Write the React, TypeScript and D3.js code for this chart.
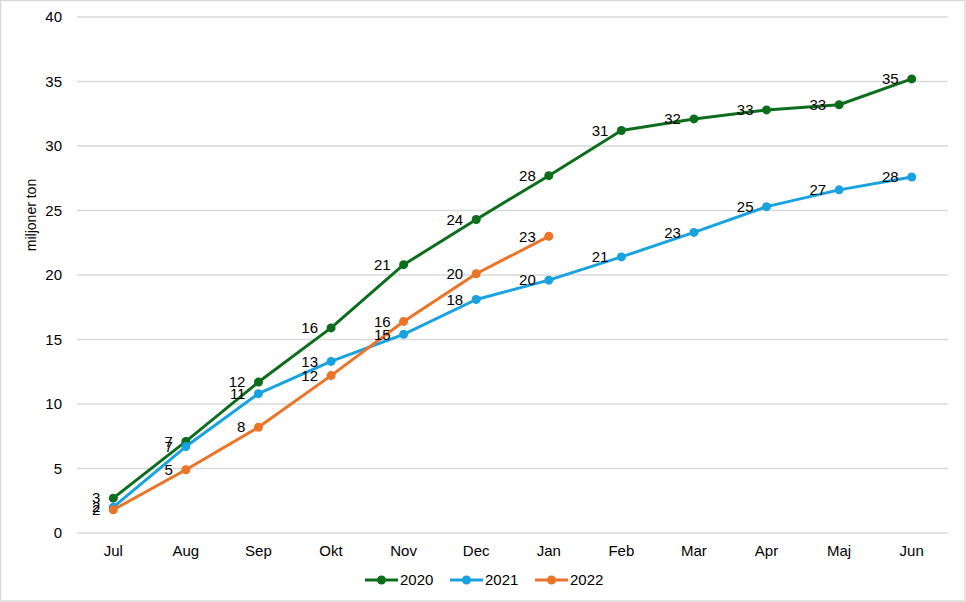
import React from "react";
import * as d3 from "d3";

const months = ["Jul", "Aug", "Sep", "Okt", "Nov", "Dec", "Jan", "Feb", "Mar", "Apr", "Maj", "Jun"];
const values2020 = [2.7, 7.1, 11.7, 15.9, 20.8, 24.3, 27.7, 31.2, 32.1, 32.8, 33.2, 35.2];
const values2021 = [2.0, 6.7, 10.8, 13.3, 15.4, 18.1, 19.6, 21.4, 23.3, 25.3, 26.6, 27.6];
const values2022 = [1.8, 4.9, 8.2, 12.2, 16.4, 20.1, 23.0];
const yTicks = [0, 5, 10, 15, 20, 25, 30, 35, 40];

const seriesNames = ["2020", "2021", "2022"];
const seriesColors = ["#0c6e1c", "#19a2e0", "#ea7428"];

const W = 966;
const H = 602;
const plot = { left: 77, right: 948, top: 17, bottom: 533 };
const font = "Arial, 'Liberation Sans', sans-serif";

export default function App() {
  const x = d3.scaleBand<string>().domain(months).range([plot.left, plot.right]).padding(0);
  const cx = (m: string) => (x(m) ?? 0) + x.bandwidth() / 2;
  const y = d3.scaleLinear().domain([0, 40]).range([plot.bottom, plot.top]);

  const series = [values2020, values2021, values2022];
  const line = d3
    .line<number>()
    .x((_, i) => cx(months[i]))
    .y((d) => y(d));

  const legendItems = seriesNames.map((name, i) => ({ name, color: seriesColors[i], x0: 365 + i * 85 }));

  return (
    <svg
      width={W}
      height={H}
      style={{ position: "absolute", left: 0, top: 0, background: "#fff" }}
      fontFamily={font}
    >
      <rect x={0.5} y={0.5} width={W - 1.5} height={H - 1.5} fill="#fff" stroke="#d9d9d9" strokeWidth={1.5} />

      {/* horizontal gridlines and y tick labels */}
      {yTicks.map((t) => (
        <g key={t}>
          <line x1={plot.left} x2={plot.right} y1={y(t)} y2={y(t)} stroke="#d9d9d9" strokeWidth={1.3} />
          <text x={62} y={y(t)} dy="0.35em" textAnchor="end" fontSize={15} fill="#000">
            {t}
          </text>
        </g>
      ))}

      {/* x category labels */}
      {months.map((m) => (
        <text key={m} x={cx(m)} y={551} dy="0.35em" textAnchor="middle" fontSize={15} fill="#000">
          {m}
        </text>
      ))}

      <text
        transform={`translate(31,${(plot.top + plot.bottom) / 2 - 60}) rotate(-90)`}
        textAnchor="middle"
        dy="0.35em"
        fontSize={14}
        fill="#000"
      >
        miljoner ton
      </text>

      {/* series lines with markers */}
      {series.map((vals, si) => (
        <g key={seriesNames[si]}>
          <path d={line(vals) ?? ""} fill="none" stroke={seriesColors[si]} strokeWidth={3} strokeLinejoin="round" />
          {vals.map((v, i) => (
            <circle key={i} cx={cx(months[i])} cy={y(v)} r={4.5} fill={seriesColors[si]} />
          ))}
        </g>
      ))}

      {/* value labels, left of each point */}
      {series.map((vals, si) => (
        <g key={"lbl" + si}>
          {vals.map((v, i) => (
            <text
              key={i}
              x={cx(months[i]) - 13}
              y={y(v)}
              dy="0.35em"
              textAnchor="end"
              fontSize={15}
              fill="#000"
            >
              {d3.format(".0f")(v)}
            </text>
          ))}
        </g>
      ))}

      {/* legend */}
      {legendItems.map((it) => (
        <g key={it.name}>
          <line x1={it.x0} x2={it.x0 + 33} y1={580} y2={580} stroke={it.color} strokeWidth={3} />
          <circle cx={it.x0 + 16.5} cy={580} r={4.5} fill={it.color} />
          <text x={it.x0 + 35} y={580} dy="0.35em" fontSize={15} fill="#000">
            {it.name}
          </text>
        </g>
      ))}
    </svg>
  );
}
